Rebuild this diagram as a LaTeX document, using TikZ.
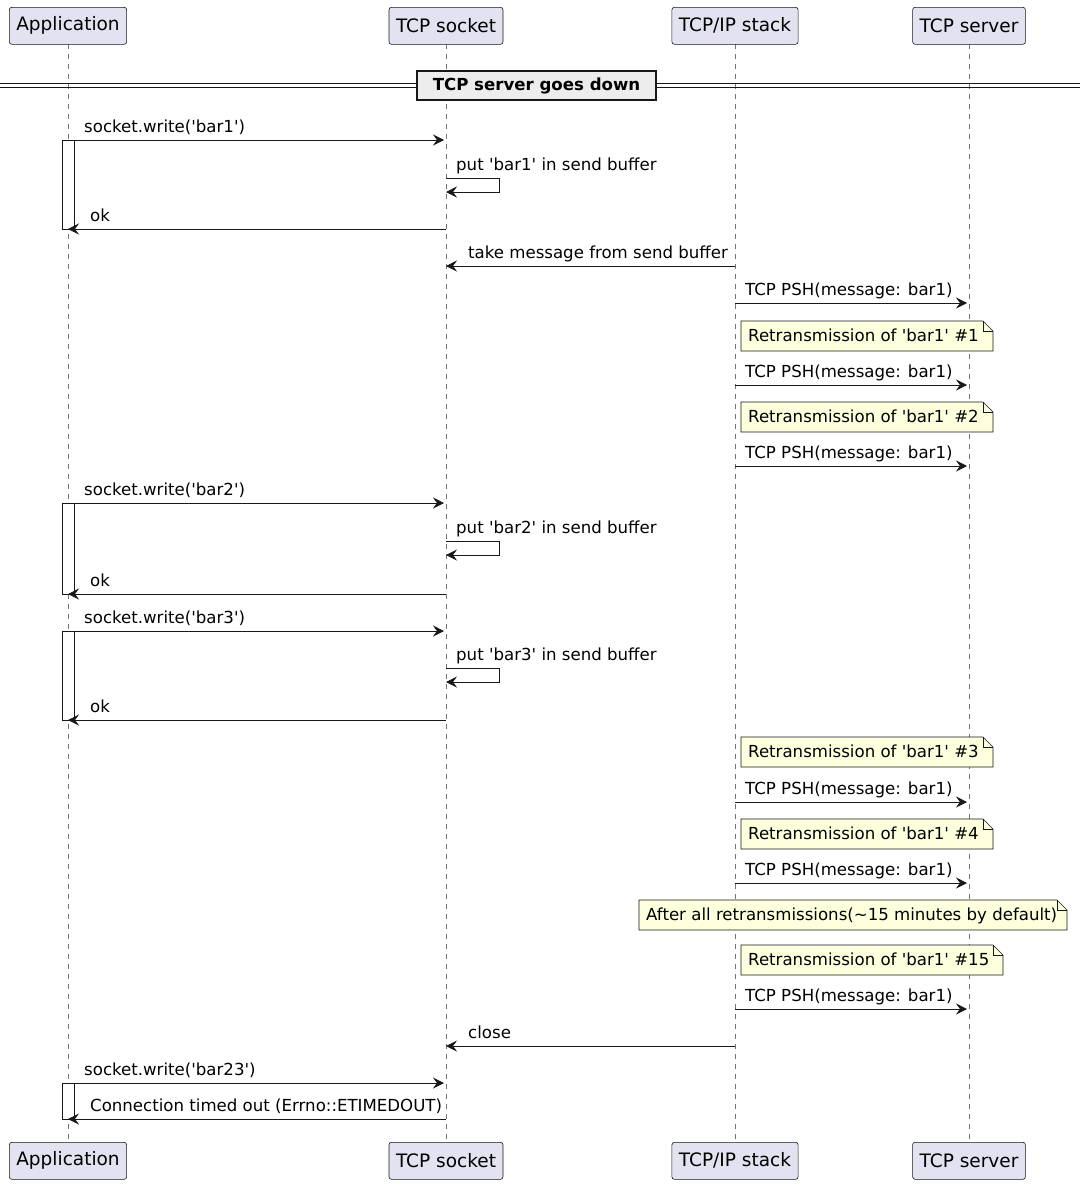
\documentclass[tikz,border=0pt]{standalone}
\usepackage{fontspec}
\setmainfont{DejaVu Sans}
\usetikzlibrary{arrows.meta}
\definecolor{partfill}{HTML}{E2E2F0}
\definecolor{notefill}{HTML}{FEFFDD}
\definecolor{ink}{HTML}{181818}
\newcommand{\q}{\textquotesingle}
\tikzset{
  part/.style={draw=ink, fill=partfill, rounded corners=2.5pt, line width=0.6pt, minimum height=37pt, inner xsep=7pt, font=\fontsize{18.5}{20}\selectfont, anchor=north},
  life/.style={draw=ink!60, dash pattern=on 5pt off 5pt, line width=0.6pt},
  msg/.style={draw=ink, line width=0.7pt, -{Stealth[length=11pt,width=11pt,inset=4pt]}},
  lbl/.style={font=\fontsize{16.6}{18}\selectfont, anchor=base west, inner sep=0pt},
  act/.style={draw=ink, fill=white, line width=0.7pt},
  notetxt/.style={font=\fontsize{16.6}{18}\selectfont, anchor=base west, inner sep=0pt},
}
\newcommand{\mymsg}[5]{% name, fromx, tox, y, label
  \coordinate (#1a) at (#2,#4); \coordinate (#1b) at (#3,#4);
  \draw[msg] (#1a) -- (#1b);
  \pgfmathsetmacro{\lx}{min(#2,#3)+10}
  \ifdim #3pt<100pt \pgfmathsetmacro{\lx}{min(#2,#3)+22}\fi
  \ifdim #2pt>700pt \ifdim #3pt<700pt \pgfmathsetmacro{\lx}{min(#2,#3)+22}\fi\fi
  \node[lbl] (#1l) at (\lx,#4-8) {#5};
}
\newcommand{\myself}[3]{% name, y, label
  \coordinate (#1a) at (446,#2); \coordinate (#1c) at (499,#2);
  \coordinate (#1d) at (499,#2+14); \coordinate (#1b) at (446,#2+14);
  \draw[msg] (#1a) -- (#1c) -- (#1d) -- (#1b);
  \node[lbl] (#1l) at (456,#2-8) {#3};
}
\newcommand{\mynote}[5]{% name, x1, x2, ytop, text
  \draw[draw=ink, fill=notefill, line width=0.6pt] (#2,#4) -- (#3-10,#4) -- (#3,#4+10) -- (#3,#4+30) -- (#2,#4+30) -- cycle;
  \draw[draw=ink, line width=0.6pt] (#3-10,#4) -- (#3-10,#4+10) -- (#3,#4+10);
  \node[notetxt] (#1) at (#2+7,#4+20) {#5};
}
\begin{document}
\begin{tikzpicture}[x=1pt,y=-1pt]
\useasboundingbox (0,0) rectangle (1080,1186);
% lifelines
\foreach \x in {68,446,735,969} \draw[life] (\x,44) -- (\x,1142);
% participants
\node[part] (A) at (68,7) {Application};
\node[part] (S) at (446,7) {TCP socket};
\node[part] (I) at (735,7) {TCP/IP stack};
\node[part] (T) at (969,7) {TCP server};
\node[part] (A2) at (68,1142) {Application};
\node[part] (S2) at (446,1142) {TCP socket};
\node[part] (I2) at (735,1142) {TCP/IP stack};
\node[part] (T2) at (969,1142) {TCP server};
% divider
\draw[ink, line width=0.7pt] (0,83.5) -- (1080,83.5) (0,87.5) -- (1080,87.5);
\node[draw=ink, fill=gray!14, line width=1.6pt, minimum width=239pt, minimum height=29pt, font=\bfseries\fontsize{16.6}{18}\selectfont] (D) at (536.5,85.5) {TCP server goes down};
% activations
\draw[act] (62,140) rectangle (74,229);
\draw[act] (62,503) rectangle (74,594);
\draw[act] (62,631) rectangle (74,720);
\draw[act] (62,1083) rectangle (74,1119);
% messages
\mymsg{m1}{74}{444}{140}{socket.write(\q bar1\q)}
\myself{s1}{178}{put \q bar1\q{} in send buffer}
\mymsg{m2}{446}{68}{229}{ok}
\mymsg{m3}{735}{446}{266}{take message from send buffer}
\mymsg{m4}{735}{967}{303}{TCP PSH(message: bar1)}
\mynote{n1}{741}{993}{321}{Retransmission of \q bar1\q{} \#1}
\mymsg{m5}{735}{967}{385}{TCP PSH(message: bar1)}
\mynote{n2}{741}{993}{402}{Retransmission of \q bar1\q{} \#2}
\mymsg{m6}{735}{967}{466}{TCP PSH(message: bar1)}
\mymsg{m7}{74}{444}{503}{socket.write(\q bar2\q)}
\myself{s2}{541}{put \q bar2\q{} in send buffer}
\mymsg{m8}{446}{68}{594}{ok}
\mymsg{m9}{74}{444}{631}{socket.write(\q bar3\q)}
\myself{s3}{668}{put \q bar3\q{} in send buffer}
\mymsg{m10}{446}{68}{720}{ok}
\mynote{n3}{741}{993}{737}{Retransmission of \q bar1\q{} \#3}
\mymsg{m11}{735}{967}{802}{TCP PSH(message: bar1)}
\mynote{n4}{741}{993}{819}{Retransmission of \q bar1\q{} \#4}
\mymsg{m12}{735}{967}{883}{TCP PSH(message: bar1)}
\mynote{n5}{639}{1067}{900}{After all retransmissions(\char`~15 minutes by default)}
\mynote{n6}{741}{1003}{945}{Retransmission of \q bar1\q{} \#15}
\mymsg{m13}{735}{967}{1009}{TCP PSH(message: bar1)}
\mymsg{m14}{735}{446}{1046}{close}
\mymsg{m15}{74}{444}{1083}{socket.write(\q bar23\q)}
\mymsg{m16}{446}{68}{1119}{Connection timed out (Errno::ETIMEDOUT)}
\end{tikzpicture}
\end{document}
